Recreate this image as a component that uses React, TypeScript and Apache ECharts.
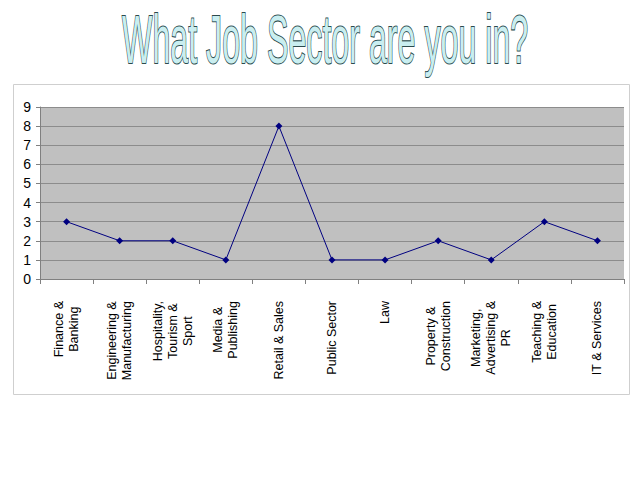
import React, { useEffect, useRef } from "react";
import * as echarts from "echarts";

const TITLE = "What Job Sector are you in?";
const categories = [
  "Finance &\nBanking",
  "Engineering &\nManufacturing",
  "Hospitality,\nTourism &\nSport",
  "Media &\nPublishing",
  "Retail & Sales",
  "Public Sector",
  "Law",
  "Property &\nConstruction",
  "Marketing,\nAdvertising &\nPR",
  "Teaching &\nEducation",
  "IT & Services",
];
const counts = [3, 2, 2, 1, 8, 1, 1, 2, 1, 3, 2];
const yMin = 0;
const yMax = 9;
const yStep = 1;

export default function App() {
  const ref = useRef<HTMLDivElement>(null);
  useEffect(() => {
    document.body.style.margin = "0";
    const chart = echarts.init(ref.current!, null, { renderer: "svg" });
    const font = "'Liberation Sans', Arial, sans-serif";
    chart.setOption({
      animation: false,
      backgroundColor: "#ffffff",
      graphic: [
        {
          type: "rect",
          z: -10,
          shape: { x: 13.5, y: 84.5, width: 616, height: 310 },
          style: { fill: "#ffffff", stroke: "#cfcfcf", lineWidth: 1 },
        },
        {
          type: "text",
          x: 122,
          y: 39.5,
          scaleY: 2.13,
          style: {
            text: TITLE,
            fontFamily: font,
            fontSize: 32.2,
            fill: "#c9eef0",
            stroke: "#2c4a4c",
            lineWidth: 1,
            align: "left",
            verticalAlign: "middle",
          },
        },
      ],
      grid: {
        left: 40,
        right: 14,
        top: 107,
        bottom: 199,
        show: true,
        backgroundColor: "#c0c0c0",
        borderWidth: 0,
        containLabel: false,
        outerBoundsMode: "none",
      },
      xAxis: {
        type: "category",
        data: categories,
        boundaryGap: true,
        axisLine: { lineStyle: { color: "#808080", width: 1 } },
        axisTick: { show: true, length: 5, lineStyle: { color: "#808080" } },
        axisLabel: {
          rotate: 90,
          margin: 22,
          interval: 0,
          color: "#000000",
          fontFamily: font,
          fontSize: 12.5,
          lineHeight: 15,
          formatter: (v: string) =>
            v
              .split("\n")
              .map((l) => `{c|${l}}`)
              .join("\n"),
          rich: {
            c: {
              align: "center",
              fontFamily: font,
              fontSize: 12.5,
              lineHeight: 15,
              color: "#000000",
            },
          },
        },
        splitLine: { show: false },
      },
      yAxis: {
        type: "value",
        min: yMin,
        max: yMax,
        interval: yStep,
        axisLine: { show: true, lineStyle: { color: "#808080", width: 1 } },
        axisTick: { show: true, length: 4, lineStyle: { color: "#808080" } },
        axisLabel: {
          margin: 9,
          color: "#000000",
          fontFamily: font,
          fontSize: 14,
        },
        splitLine: { show: true, lineStyle: { color: "#8c8c8c", width: 1 } },
      },
      series: [
        {
          type: "line",
          data: counts,
          symbol: "diamond",
          symbolSize: 7,
          showSymbol: true,
          lineStyle: { color: "#000080", width: 1 },
          itemStyle: { color: "#000080" },
        },
      ],
    });
    return () => chart.dispose();
  }, []);
  return <div ref={ref} style={{ width: 638, height: 478 }} />;
}
